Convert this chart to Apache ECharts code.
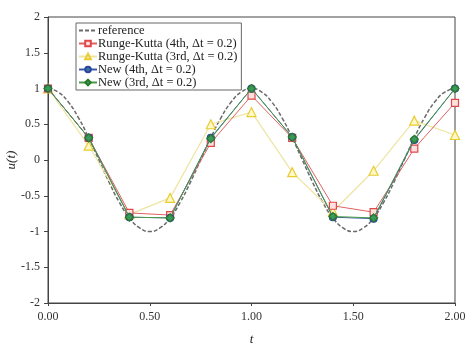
<!DOCTYPE html>
<html><head><meta charset="utf-8">
<script src="https://cdn.jsdelivr.net/npm/echarts@6/dist/echarts.min.js"></script>
<style>html,body{margin:0;padding:0;background:#fff}#c{width:474px;height:345px}</style>
</head><body><div id="c"></div>
<script>
// Data
const tSteps = [0, 0.2, 0.4, 0.6, 0.8, 1.0, 1.2, 1.4, 1.6, 1.8, 2.0];
const rk4 = [1.0, 0.31, -0.74, -0.77, 0.24, 0.90, 0.31, -0.64, -0.73, 0.16, 0.80];
const rk3 = [1.0, 0.20, -0.76, -0.53, 0.50, 0.67, -0.17, -0.72, -0.15, 0.55, 0.35];
const new4 = [1.0, 0.31, -0.80, -0.81, 0.31, 1.0, 0.32, -0.80, -0.82, 0.28, 1.0];
const new3 = [1.0, 0.31, -0.80, -0.81, 0.30, 1.0, 0.32, -0.79, -0.81, 0.29, 1.0];
const refT = [0, 0.05, 0.1, 0.15, 0.2, 0.25, 0.3, 0.35, 0.4, 0.45, 0.5, 0.55, 0.6, 0.65, 0.7, 0.75, 0.8, 0.85, 0.9, 0.95, 1.0,
  1.05, 1.1, 1.15, 1.2, 1.25, 1.3, 1.35, 1.4, 1.45, 1.5, 1.55, 1.6, 1.65, 1.7, 1.75, 1.8, 1.85, 1.9, 1.95, 2.0];
const refU = [1, 0.95, 0.81, 0.59, 0.31, 0, -0.31, -0.59, -0.81, -0.95, -1, -0.95, -0.81, -0.59, -0.31, 0, 0.31, 0.59, 0.81, 0.95, 1,
  0.95, 0.81, 0.59, 0.31, 0, -0.31, -0.59, -0.81, -0.95, -1, -0.95, -0.81, -0.59, -0.31, 0, 0.31, 0.59, 0.81, 0.95, 1];
const names = ['reference', 'Runge-Kutta (4th, \u0394t = 0.2)', 'Runge-Kutta (3rd, \u0394t = 0.2)', 'New (4th, \u0394t = 0.2)', 'New (3rd, \u0394t = 0.2)'];

const pair = (xs, ys) => xs.map((x, i) => [x, ys[i]]);
const font = "'Liberation Serif', 'DejaVu Serif', serif";
const chart = echarts.init(document.getElementById('c'), null, {renderer: 'canvas'});
chart.setOption({
  animation: false,
  grid: {left: 48, right: 19, top: 17, bottom: 42, show: true, borderColor: '#444', borderWidth: 1,
         containLabel: false, outerBoundsMode: 'none'},
  legend: {
    orient: 'vertical', left: 76, top: 23,
    data: [{name: names[0], itemStyle: {opacity: 0}}, names[1], names[2], names[3], names[4]],
    borderColor: '#666', borderWidth: 1, padding: [1, 4, 1, 2], itemGap: 0,
    itemWidth: 18, itemHeight: 7, backgroundColor: '#fff',
    textStyle: {fontFamily: font, fontSize: 12.5, lineHeight: 12, color: '#222', padding: [0, 0, 0, -4]}
  },
  xAxis: {
    type: 'value', min: 0, max: 2, interval: 0.5,
    name: 't', nameLocation: 'middle', nameGap: 30, nameMoveOverlap: false,
    nameTextStyle: {fontFamily: font, fontStyle: 'italic', fontSize: 13, color: '#222'},
    axisLine: {show: true, onZero: false, lineStyle: {color: '#444'}},
    axisTick: {show: true, length: 3, lineStyle: {color: '#444'}},
    axisLabel: {fontFamily: font, fontSize: 12, color: '#333', margin: 8, formatter: v => v.toFixed(2)},
    splitLine: {show: false}
  },
  yAxis: {
    type: 'value', min: -2, max: 2, interval: 0.5,
    name: 'u(t)', nameLocation: 'middle', nameGap: 30, nameRotate: 90, nameMoveOverlap: false,
    nameTextStyle: {fontFamily: font, fontStyle: 'italic', fontSize: 13, color: '#222'},
    axisLine: {show: true, onZero: false, lineStyle: {color: '#444'}},
    axisTick: {show: true, length: 4, lineStyle: {color: '#444'}},
    axisLabel: {fontFamily: font, fontSize: 12, color: '#333', margin: 8},
    splitLine: {show: false}
  },
  series: [
    {name: names[0], type: 'line', smooth: true, showSymbol: false, symbol: 'none', data: pair(refT, refU),
     lineStyle: {color: '#6a6a6a', width: 1.5, type: [4, 2]}, itemStyle: {color: '#6a6a6a'}, z: 1},
    {name: names[1], type: 'line', data: pair(tSteps, rk4), symbol: 'rect', symbolSize: 7,
     lineStyle: {color: '#e06060', width: 1}, itemStyle: {color: '#fde0e0', borderColor: '#e04848', borderWidth: 1.2}, z: 3},
    {name: names[2], type: 'line', data: pair(tSteps, rk3), symbol: 'triangle', symbolSize: 9,
     lineStyle: {color: '#eee4a0', width: 1.2}, itemStyle: {color: '#fff8c8', borderColor: '#e8cc30', borderWidth: 1.2}, z: 2},
    {name: names[3], type: 'line', data: pair(tSteps, new4), symbol: 'circle', symbolSize: 7,
     lineStyle: {color: '#3a5aa8', width: 1}, itemStyle: {color: '#3a78a0', borderColor: '#2a44a0', borderWidth: 1.2}, z: 4},
    {name: names[4], type: 'line', data: pair(tSteps, new3), symbol: 'diamond', symbolSize: 8,
     lineStyle: {color: '#4a9a4a', width: 1}, itemStyle: {color: '#3a9a5a', borderColor: '#2a7a2a', borderWidth: 1.2}, z: 5}
  ]
});
</script></body></html>
